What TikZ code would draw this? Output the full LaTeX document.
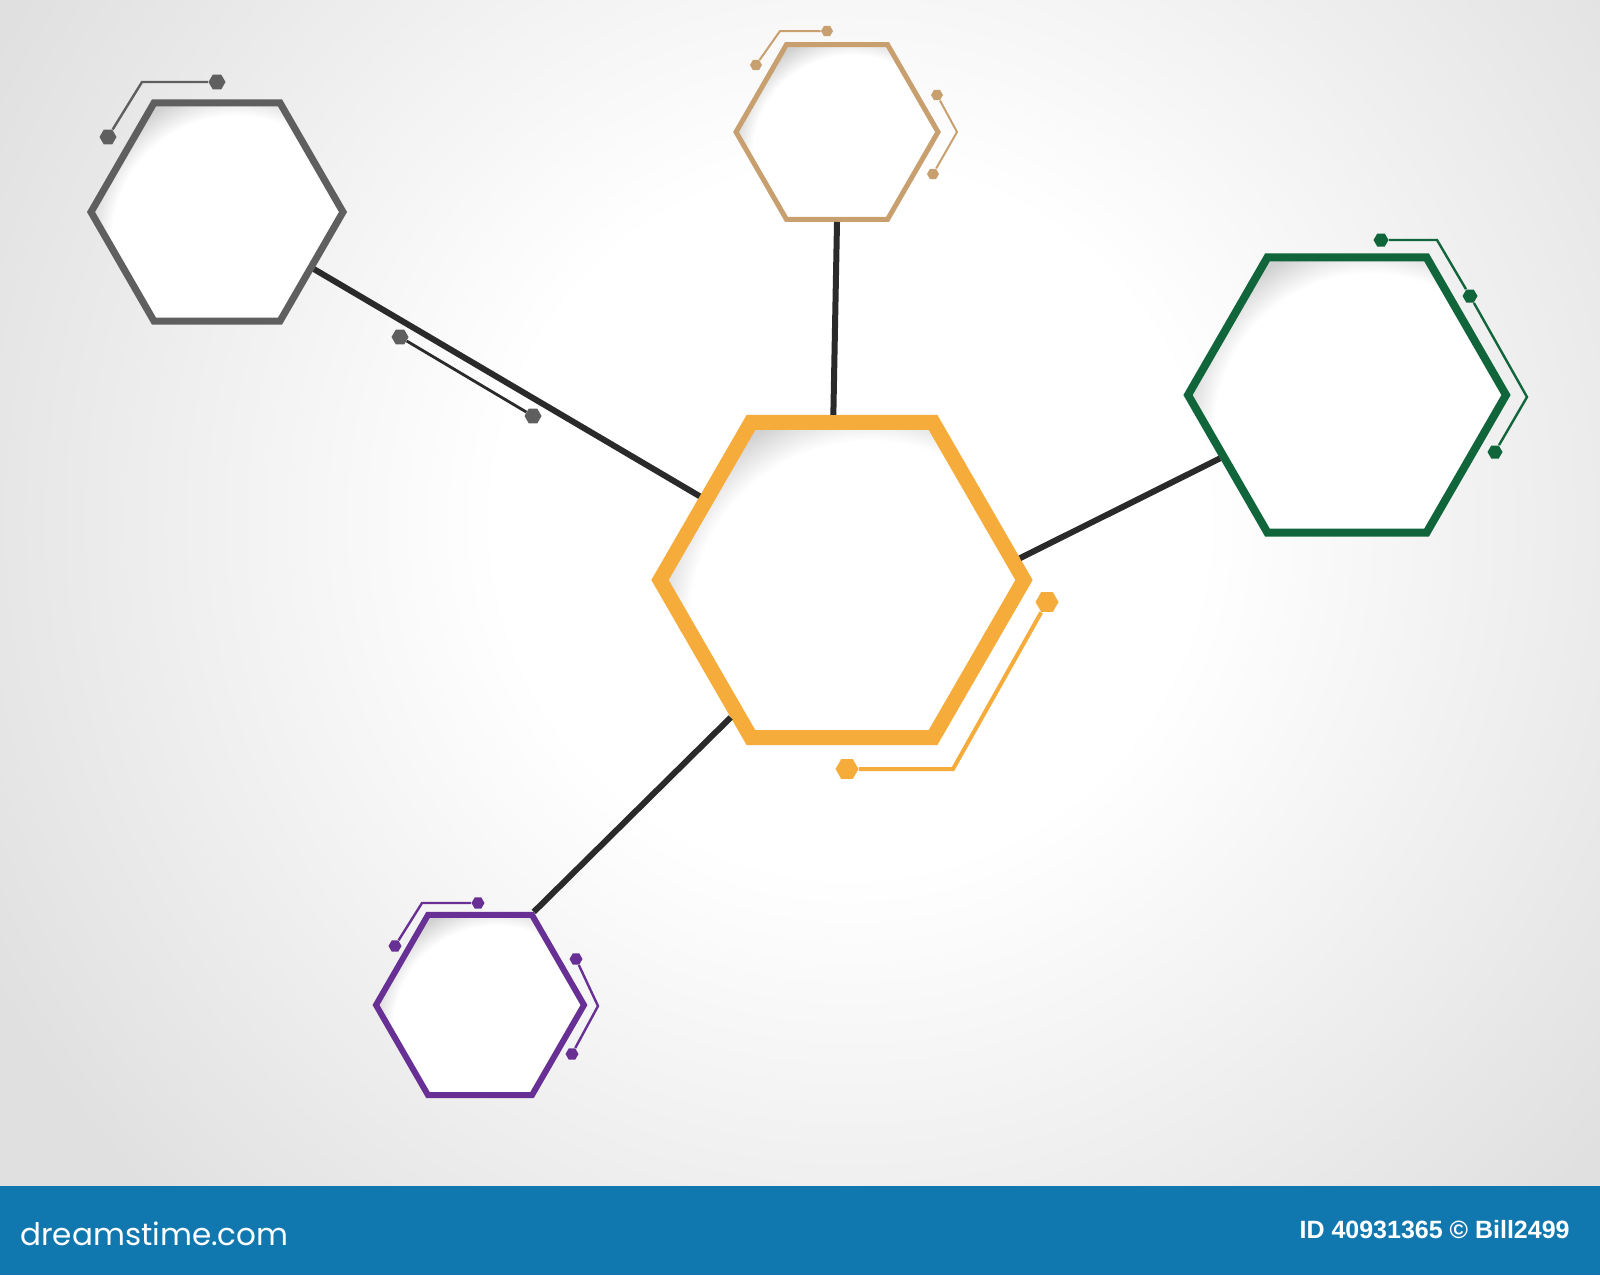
\documentclass[tikz,border=0pt]{standalone}
\usepackage{fontspec}
\usetikzlibrary{shapes.geometric}
\newfontfamily\logofont{Poppins}
\newfontfamily\idfont{Liberation Sans}
\definecolor{hexgray}{RGB}{95,95,95}
\definecolor{hextan}{RGB}{200,160,112}
\definecolor{hexorange}{RGB}{246,172,58}
\definecolor{hexgreen}{RGB}{16,102,58}
\definecolor{hexpurple}{RGB}{104,48,148}
\definecolor{linkdark}{RGB}{42,42,42}
\definecolor{barblue}{RGB}{17,120,175}
\pgfdeclareradialshading{hexglow}{\pgfpointorigin}{color(0bp)=(white); color(20.5bp)=(white); color(25bp)=(black!18); color(50bp)=(black!18)}
\pgfdeclareradialshading{bgglow}{\pgfpointorigin}{color(0bp)=(white); color(8bp)=(white); color(22bp)=(black!12); color(50bp)=(black!12)}

\begin{document}
\begin{tikzpicture}[
    x=0.5pt, y=-0.5pt,
    hexcell/.style n args={3}{
      regular polygon, regular polygon sides=6, draw=#1, line width=#3pt,
      fill=white, inner sep=0pt, minimum size=#2pt,
      path picture={
        \fill[black!18] (path picture bounding box.south west) rectangle (path picture bounding box.north east);
        \shade[shading=hexglow] ([shift={(0.075*#2pt,-0.11*#2pt)}]path picture bounding box.center) circle[radius=0.6*#2pt];
      }
    },
    hexdot/.style 2 args={regular polygon, regular polygon sides=6, fill=#1, inner sep=0pt, minimum size=#2pt},
    bond/.style={draw=linkdark, line width=3pt},
    wire/.style 2 args={draw=#1, line width=#2pt}
  ]
  \useasboundingbox (0,0) rectangle (1600,1275);
  \begin{scope}
    \clip (0,0) rectangle (1600,1186);
    \shade[shading=bgglow] (850,520) circle[radius=550pt];
  \end{scope}
  \fill[barblue] (0,1186) rectangle (1600,1275);

  \node[hexcell={hexgray}{126}{3.5}] (cellnw) at (217,212) {};
  \node[hexcell={hextan}{101}{2.5}] (celln) at (837,132) {};
  \node[hexcell={hexorange}{182}{7.5}] (hub) at (842,580) {};
  \node[hexcell={hexgreen}{159}{4}] (celle) at (1347,395) {};
  \node[hexcell={hexpurple}{104}{3}] (cellsw) at (480,1005) {};

  \draw[bond] (cellnw) -- (hub);
  \draw[bond] (celln.south) -- (hub.93);
  \draw[bond] (hub.7) -- (celle);
  \draw[bond] (hub.231) -- (cellsw.60);

  \node[hexdot={hexgray}{8.5}] (nwa) at (217,82) {};
  \coordinate (nwk) at (142,82);
  \node[hexdot={hexgray}{8.5}] (nwb) at (108,137) {};
  \draw[wire={hexgray}{1.2}] (nwa) -- (nwk) -- (nwb);

  \node[hexdot={hexgray}{8.5}] (bda) at (400,337) {};
  \node[hexdot={hexgray}{8.5}] (bdb) at (533,416) {};
  \draw[wire={linkdark}{1.4}] (bda) -- (bdb);

  \node[hexdot={hextan}{6}] (na) at (827,31) {};
  \coordinate (nk) at (780,31);
  \node[hexdot={hextan}{6}] (nb) at (756,65) {};
  \draw[wire={hextan}{1}] (na) -- (nk) -- (nb);
  \node[hexdot={hextan}{6}] (nc) at (937,95) {};
  \coordinate (nl) at (957,132);
  \node[hexdot={hextan}{6}] (nd) at (933,174) {};
  \draw[wire={hextan}{1}] (nc) -- (nl) -- (nd);

  \node[hexdot={hexorange}{11.5}] (ha) at (1047,602) {};
  \coordinate (hk) at (953,769);
  \node[hexdot={hexorange}{11.5}] (hb) at (847,769) {};
  \draw[wire={hexorange}{2}] (ha) -- (hk) -- (hb);

  \node[hexdot={hexgreen}{7.5}] (ea) at (1381,240) {};
  \coordinate (ek) at (1437,240);
  \node[hexdot={hexgreen}{7.5}] (eb) at (1470,296) {};
  \coordinate (el) at (1527,397);
  \node[hexdot={hexgreen}{7.5}] (ec) at (1495,452) {};
  \draw[wire={hexgreen}{1.2}] (ea) -- (ek) -- (eb) -- (el) -- (ec);

  \node[hexdot={hexpurple}{6.5}] (sa) at (478,903) {};
  \coordinate (sk) at (422,903);
  \node[hexdot={hexpurple}{6.5}] (sb) at (395,946) {};
  \draw[wire={hexpurple}{1.2}] (sa) -- (sk) -- (sb);
  \node[hexdot={hexpurple}{6.5}] (sc) at (576,959) {};
  \coordinate (sl) at (598,1006);
  \node[hexdot={hexpurple}{6.5}] (sd) at (572,1054) {};
  \draw[wire={hexpurple}{1.2}] (sc) -- (sl) -- (sd);

  \node[anchor=base west, inner sep=0pt, text=white, font=\logofont\fontsize{15.5}{15.5}\selectfont] (site) at (20,1245) {dreamstime.com};
  \node[anchor=base east, inner sep=0pt, text=white, font=\idfont\bfseries\fontsize{12.5}{12.5}\selectfont] (imgid) at (1570,1238) {ID 40931365 © Bill2499};
\end{tikzpicture}
\end{document}
